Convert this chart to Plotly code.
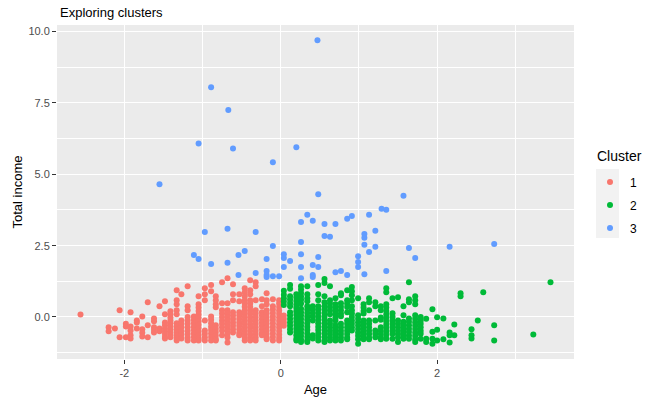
import plotly.graph_objects as go

# ---- data: cluster 1 (red) columns: age -> incomes
red_age = [-2.56, -2.20, -2.12, -2.06, -1.98, -1.92, -1.84, -1.77, -1.70, -1.62, -1.55, -1.48, -1.41,
           -1.33, -1.27, -1.19, -1.11, -1.05, -0.97, -0.89, -0.83, -0.75, -0.68, -0.61, -0.53, -0.46,
           -0.39, -0.32, -0.24, -0.18, -0.10, -0.02, 0.04]
red_income = [
    [0.09],
    [-0.36, -0.50],
    [-0.40],
    [0.24, -0.71],
    [-0.24, -0.33, -0.71],
    [0.17, -0.33, -0.47, -0.64, -0.75],
    [-0.12, -0.19, -0.40],
    [0.02, -0.43, -0.55, -0.68],
    [0.52, -0.29, -0.71],
    [-0.05, -0.15, -0.36, -0.45, -0.54],
    [0.38, -0.40, -0.50],
    [0.55, 0.10, -0.19, -0.29, -0.40, -0.50, -0.60, -0.70, -0.75],
    [0.20, 0.10, -0.02, -0.12, -0.22, -0.33, -0.43, -0.53, -0.62, -0.71],
    [0.94, 0.59, 0.45, 0.24, 0.10, -0.22, -0.33, -0.45, -0.55, -0.65, -0.75, -0.82],
    [0.80, -0.12, -0.24, -0.36, -0.50, -0.62, -0.75],
    [1.08, 0.38, 0.24, 0.00, -0.12, -0.24, -0.36, -0.48, -0.60, -0.72, -0.82],
    [0.02, -0.10, -0.22, -0.34, -0.46, -0.58, -0.70, -0.82],
    [0.73, 0.45, 0.33, 0.21, 0.09, -0.03, -0.15, -0.27, -0.39, -0.51, -0.63, -0.75, -0.82],
    [1.01, 0.80, 0.59, -0.12, -0.47, -0.59, -0.71, -0.82],
    [1.12, 0.90, 0.02, -0.10, -0.22, -0.34, -0.46, -0.58, -0.70, -0.82],
    [0.73, 0.59, 0.45, 0.34, -0.29, -0.41, -0.53, -0.65, -0.77, -0.82],
    [1.22, 0.48, 0.24, 0.12, 0.00, -0.12, -0.24, -0.36, -0.48, -0.64],
    [1.36, 0.48, 0.24, 0.12, 0.00, -0.12, -0.24, -0.36, -0.48, -0.60, -0.72, -0.89],
    [1.15, 0.80, 0.59, 0.17, 0.05, -0.07, -0.19, -0.31, -0.43, -0.54],
    [0.80, 0.55, 0.17, 0.05, -0.07, -0.19, -0.31, -0.43, -0.55, -0.64],
    [1.01, 0.87, 0.73, 0.59, 0.48, 0.36, 0.24, 0.12, 0.00, -0.12, -0.24, -0.36, -0.48, -0.60, -0.72, -0.82],
    [1.29, 0.94, 0.80, 0.59, 0.47, 0.35, 0.23, 0.11, -0.01, -0.13, -0.25, -0.37, -0.49, -0.61, -0.73, -0.82],
    [1.22, 1.08, 0.59, 0.24, 0.12, 0.00, -0.12, -0.24, -0.36, -0.48, -0.60, -0.72, -0.82],
    [0.62, 0.38, 0.17, 0.05, -0.07, -0.19, -0.31, -0.43, -0.55, -0.64],
    [0.83, 0.59, 0.45, 0.24, 0.12, 0.00, -0.12, -0.24, -0.36, -0.48, -0.60, -0.72, -0.78],
    [0.62, 0.38, 0.26, 0.14, 0.02, -0.10, -0.22, -0.34, -0.46, -0.58, -0.70, -0.82],
    [0.59, 0.47, 0.35, 0.23, 0.11, -0.01, -0.13, -0.25, -0.37, -0.49, -0.61, -0.73, -0.82],
    [0.05, -0.07, -0.19, -0.31],
]

# cluster 2 (green) columns
green_age = [0.04, 0.12, 0.20, 0.26, 0.34, 0.41, 0.48, 0.56, 0.63, 0.70, 0.77, 0.85, 0.91, 0.99,
             1.06, 1.13, 1.21, 1.28, 1.35, 1.43, 1.50, 1.57, 1.64, 1.72, 1.79, 1.86, 1.94, 2.00,
             2.08, 2.16, 2.22, 2.30, 2.44, 2.52, 2.59, 2.73, 3.23, 3.45]
green_income = [
    [0.92, 0.78, 0.66, 0.54, 0.42],
    [1.12, 0.99, 0.73, 0.61, 0.49, 0.38, 0.17, 0.05, -0.07, -0.19, -0.31, -0.43, -0.54],
    [0.80, 0.68, 0.56, 0.44, 0.32, 0.20, 0.08, -0.04, -0.16, -0.28, -0.40, -0.52, -0.64, -0.76, -0.82],
    [1.08, 0.96, 0.84, 0.72, 0.60, 0.47, 0.29, 0.17, 0.05, -0.07, -0.19, -0.31, -0.43, -0.55, -0.67, -0.79, -0.88],
    [1.08, 0.80, 0.66, 0.55, 0.38, 0.26, 0.14, 0.02, -0.10, -0.22, -0.34, -0.46, -0.58, -0.70, -0.82, -0.88],
    [0.38, 0.26, 0.14, 0.02, -0.12, -0.64, -0.75],
    [1.12, 0.80, 0.59, 0.38, 0.26, 0.14, 0.02, -0.10, -0.22, -0.34, -0.46, -0.58, -0.70, -0.82],
    [1.33, 1.19, 0.73, 0.52, 0.38, 0.26, 0.14, 0.02, -0.10, -0.22, -0.34, -0.46, -0.58, -0.70, -0.82, -0.88],
    [1.08, 0.59, 0.47, 0.35, 0.23, 0.10, -0.12, -0.24, -0.36, -0.48, -0.60, -0.72, -0.82],
    [0.66, 0.45, 0.33, 0.21, 0.09, -0.03, -0.12, -0.29, -0.41, -0.53, -0.65, -0.77, -0.82],
    [0.83, 0.76, 0.48, 0.36, 0.24, 0.12, 0.03, -0.24, -0.36, -0.48, -0.60, -0.72, -0.82],
    [0.94, 0.59, 0.47, 0.35, 0.17, -0.12, -0.24, -0.36, -0.48, -0.60, -0.72, -0.78],
    [1.05, 0.90, 0.76, 0.59, 0.38, 0.24, 0.12, 0.00, -0.12, -0.24, -0.36, -0.47],
    [0.66, 0.06, -0.06, -0.18, -0.30, -0.42, -0.54, -0.66, -0.78, -0.94],
    [0.45, 0.33, 0.21, 0.12, -0.12, -0.24, -0.36, -0.48, -0.60, -0.72, -0.78],
    [0.66, 0.52, 0.24, -0.12, -0.24, -0.36, -0.48, -0.60, -0.72, -0.78],
    [0.52, 0.38, -0.12, -0.47, -0.59, -0.71],
    [0.38, 0.24, -0.02, -0.10, -0.36, -0.48, -0.60, -0.72, -0.78],
    [1.01, 0.87, 0.45, 0.33, 0.21, 0.09, -0.03, -0.15, -0.27, -0.39, -0.51, -0.63, -0.76],
    [0.66, 0.13, 0.01, -0.11, -0.23, -0.35, -0.47, -0.59, -0.76],
    [0.69, -0.12, -0.24, -0.36, -0.48, -0.60, -0.72, -0.88],
    [0.38, 0.06, -0.17, -0.29, -0.41, -0.53, -0.65, -0.76],
    [1.22, 0.62, 0.52, -0.05, -0.17, -0.29, -0.41, -0.53, -0.65, -0.76],
    [0.73, 0.59, 0.45, 0.06, -0.06, -0.18, -0.30, -0.42, -0.54, -0.66, -0.78, -0.88],
    [0.00, -0.12, -0.24, -0.36, -0.48, -0.59, -0.76],
    [-0.06, -0.76, -0.88],
    [0.27, -0.52, -0.76, -0.94],
    [-0.01, -0.45, -0.82],
    [-0.05, -0.78],
    [-0.54, -0.64, -0.89],
    [-0.26, -0.64],
    [0.83, 0.73],
    [-0.43, -0.64, -0.75],
    [-0.12],
    [0.87],
    [-0.29, -0.82],
    [-0.61],
    [1.22],
]

# cluster 3 (blue) individual points
blue_age = [0.47, -0.89, -0.67, -1.05, -0.61, -0.10, 0.20, -1.55, 0.48, 1.57,
            0.34, 0.26, 0.41, 0.56, 0.70, 0.85, 0.91, 1.13, 1.29, 1.35,
            0.56, 0.63, 1.21, 0.26, 1.07, 1.07, 1.07, 1.13, 1.21, -0.10, 1.64, 1.72, 2.16, 2.73,
            0.04, 0.04, 0.12, 0.26, 0.48, 0.04, 0.26, 0.41, 0.48, 0.99, 0.99, 0.99,
            -0.10, -0.02, 0.26, 0.41, 0.41, 0.70, 0.77, 0.85, 1.07, 1.35,
            -0.97, -0.68, -0.32, -1.11, -1.05, -0.89, -0.68, -0.54, -0.46, -0.18, -0.54, -0.32,
            -0.18, -0.18, -0.18]
blue_income = [9.70, 8.05, 7.25, 6.08, 5.90, 5.42, 5.95, 4.65, 4.30, 4.25,
               3.58, 3.33, 3.37, 3.26, 3.26, 3.44, 3.54, 3.58, 3.79, 3.76,
               2.84, 2.81, 3.02, 2.63, 2.91, 2.78, 2.53, 2.28, 2.46, 2.49, 2.42, 2.07, 2.46, 2.56,
               2.20, 2.07, 1.96, 2.20, 2.10, 1.75, 1.75, 1.82, 1.75, 2.13, 1.93, 1.75,
               1.43, 1.43, 1.36, 1.47, 1.40, 1.57, 1.61, 1.47, 1.50, 1.61,
               2.98, 3.09, 2.98, 2.17, 2.03, 1.86, 1.90, 2.17, 2.31, 2.03, 1.47, 1.54,
               1.61, 1.47, 1.40]

cluster_names = ["1", "2", "3"]
cluster_colors = ["#F8766D", "#00BA38", "#619CFF"]
x_ticks = [-2, 0, 2]
y_ticks = [0.0, 2.5, 5.0, 7.5, 10.0]


def flatten(ages, incomes):
    xs, ys = [], []
    for a, col in zip(ages, incomes):
        for v in col:
            xs.append(a)
            ys.append(v)
    return xs, ys


rx, ry = flatten(red_age, red_income)
gx, gy = flatten(green_age, green_income)

series = [(rx, ry), (gx, gy), (blue_age, blue_income)]

fig = go.Figure()
for (xs, ys), name, col in zip(series, cluster_names, cluster_colors):
    fig.add_trace(go.Scatter(
        x=xs, y=ys, mode="markers", name=name, legendgroup=name,
        marker=dict(color=col, size=6, line=dict(width=0)),
    ))

all_x = rx + gx + blue_age
all_y = ry + gy + blue_income
xpad = 0.05 * (max(all_x) - min(all_x))
ypad = 0.05 * (max(all_y) - min(all_y))

# plot area in pixels: x 57..574, y 25..359
PL, PR, PT, PB = 57, 574, 25, 359
W, H = 668, 399


def px_x(p):
    return (p - PL) / (PR - PL)


def px_y(p):
    return (PB - p) / (PB - PT)


font_family = "Liberation Sans, Arial, sans-serif"
fig.update_layout(
    width=W, height=H,
    margin=dict(l=PL, r=W - PR, t=PT, b=H - PB, autoexpand=False),
    paper_bgcolor="white",
    plot_bgcolor="#EBEBEB",
    font=dict(family=font_family, color="black"),
    title=dict(text="Exploring clusters", x=60 / W, xanchor="left", y=1 - 12 / H,
               yanchor="middle", font=dict(size=13, color="black")),
    legend=dict(
        font=dict(size=12, color="black"),
        x=px_x(590), xanchor="left", y=px_y(205), yanchor="middle",
        bgcolor="rgba(0,0,0,0)", itemsizing="trace",
        tracegroupgap=4,
    ),
    showlegend=True,
    shapes=[dict(type="rect", xref="paper", yref="paper",
                 x0=px_x(596), x1=px_x(619), y0=px_y(238), y1=px_y(169),
                 fillcolor="#F2F2F2", line=dict(width=0), layer="below")],
    annotations=[dict(text="Cluster", xref="paper", yref="paper",
                      x=px_x(595), y=px_y(156), xanchor="left", yanchor="middle",
                      showarrow=False, font=dict(size=14, color="black"))],
)
fig.update_xaxes(
    title=dict(text="Age", font=dict(size=13, color="black"), standoff=6),
    range=[min(all_x) - xpad, max(all_x) + xpad], automargin=False,
    tickmode="array", tickvals=x_ticks, ticktext=[str(t) for t in x_ticks],
    tickfont=dict(size=11, color="#4D4D4D"),
    ticks="outside", ticklen=4, tickcolor="#333333", tickwidth=1,
    showgrid=True, gridcolor="white", gridwidth=1.1,
    minor=dict(showgrid=True, gridcolor="white", gridwidth=0.6, tick0=-1, dtick=2, ticks=""),
    zeroline=False, showline=False,
)
fig.update_yaxes(
    title=dict(text="Total income", font=dict(size=13, color="black"), standoff=2),
    range=[min(all_y) - ypad, max(all_y) + ypad], automargin=False,
    tickmode="array", tickvals=y_ticks, ticktext=["%.1f" % t for t in y_ticks],
    tickfont=dict(size=11, color="#4D4D4D"),
    ticks="outside", ticklen=4, tickcolor="#333333", tickwidth=1,
    showgrid=True, gridcolor="white", gridwidth=1.1,
    minor=dict(showgrid=True, gridcolor="white", gridwidth=0.6, tick0=-1.25, dtick=2.5, ticks=""),
    zeroline=False, showline=False,
)

fig.write_html("out.html", config={"displayModeBar": False},
               post_script="document.body.style.margin='0';")
